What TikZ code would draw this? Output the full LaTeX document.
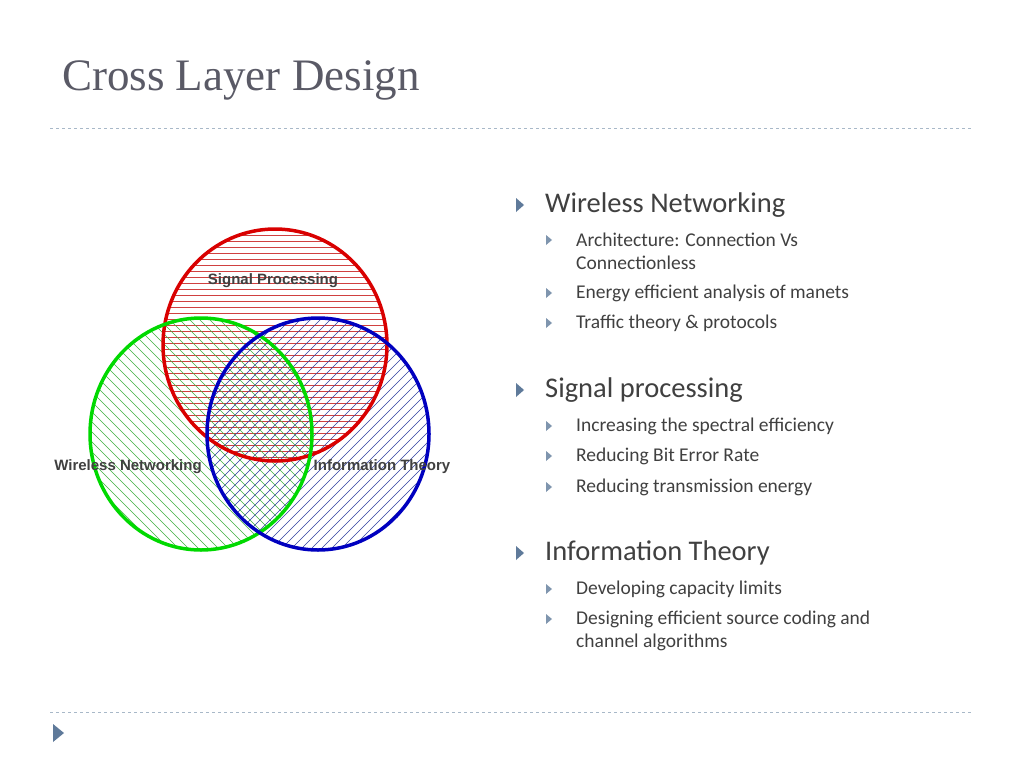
\documentclass[tikz,border=0pt]{standalone}
\usepackage{fontspec}
\setmainfont{Carlito}
\newfontfamily\titlefont{Liberation Serif}
\newfontfamily\lblfont{Liberation Sans}
\definecolor{txt}{HTML}{404040}
\definecolor{ttl}{HTML}{5A5A66}
\definecolor{bul}{HTML}{5F7A9A}
\definecolor{dashcol}{HTML}{A8B8C8}
\definecolor{hred}{HTML}{D04040}
\definecolor{hgreen}{HTML}{40B040}
\definecolor{hblue}{HTML}{3040A0}
\begin{document}
\begin{tikzpicture}[x=1pt,y=-1pt,
  main/.style={anchor=west,text=txt,font=\fontsize{28.5}{30}\selectfont,inner sep=0},
  sub/.style={anchor=west,text=txt,font=\fontsize{19.5}{21}\selectfont,inner sep=0},
  lbl/.style={text=txt,font=\lblfont\bfseries\fontsize{15}{16}\selectfont,inner sep=0},
  bigbul/.style={fill=bul},
  smallbul/.style={fill=bul!80}]
\useasboundingbox[fill=white] (0,0) rectangle (1024,768);
\node[anchor=west,text=ttl,font=\titlefont\fontsize{45}{48}\selectfont,inner sep=0] (title) at (62,80) {Cross Layer Design};
\draw[dashcol,dashed,line width=1pt] (50,128) -- (972,128);
\draw[dashcol,dashed,line width=1pt] (50,712) -- (972,712);
\fill[bul] (53,724) -- (64,733) -- (53,742) -- cycle;
% hatching
\begin{scope}
\clip (275,345) ellipse [x radius=112pt,y radius=116pt];
\foreach \y in {229,235,...,465} \draw[hred,line width=0.6pt] (160,\y) -- (390,\y);
\end{scope}
\begin{scope}
\clip (201,434) ellipse [x radius=111pt,y radius=116pt];
\foreach \k in {-300,-290,...,300} \draw[hgreen,line width=0.5pt] (80+\k,310) -- (330+\k,560);
\end{scope}
\begin{scope}
\clip (318,434) ellipse [x radius=111pt,y radius=116pt];
\foreach \k in {-300,-290,...,300} \draw[hblue,line width=0.5pt] (200+\k,560) -- (450+\k,310);
\end{scope}
\draw[red!85!black,line width=3.5pt] (275,345) ellipse [x radius=112pt,y radius=116pt];
\draw[green!85!black,line width=3.5pt] (201,434) ellipse [x radius=111pt,y radius=116pt];
\draw[blue!75!black,line width=3.5pt] (318,434) ellipse [x radius=111pt,y radius=116pt];
\node[lbl] (lsp) at (273,281) {Signal Processing};
\node[lbl] (lwn) at (128,467) {Wireless Networking};
\node[lbl] (lit) at (382,467) {Information Theory};
% bullets
\foreach \y in {205,390,553} \fill[bigbul] (516,\y-7) -- (524,\y) -- (516,\y+7) -- cycle;
\foreach \y in {240,293,323,426,456,487,589,619} \fill[smallbul] (546,\y-5) -- (552,\y) -- (546,\y+5) -- cycle;
\node[main] (m1) at (545,205) {Wireless Networking};
\node[sub] (s1) at (576,240) {Architecture: Connection Vs};
\node[sub] (s1b) at (576,263) {Connectionless};
\node[sub] (s2) at (576,293) {Energy efficient analysis of manets};
\node[sub] (s3) at (576,323) {Traffic theory \& protocols};
\node[main] (m2) at (545,390) {Signal processing};
\node[sub] (s4) at (576,426) {Increasing the spectral efficiency};
\node[sub] (s5) at (576,456) {Reducing Bit Error Rate};
\node[sub] (s6) at (576,487) {Reducing transmission energy};
\node[main] (m3) at (545,553) {Information Theory};
\node[sub] (s7) at (576,589) {Developing capacity limits};
\node[sub] (s8) at (576,619) {Designing efficient source coding and};
\node[sub] (s8b) at (576,642) {channel algorithms};
\end{tikzpicture}
\end{document}
